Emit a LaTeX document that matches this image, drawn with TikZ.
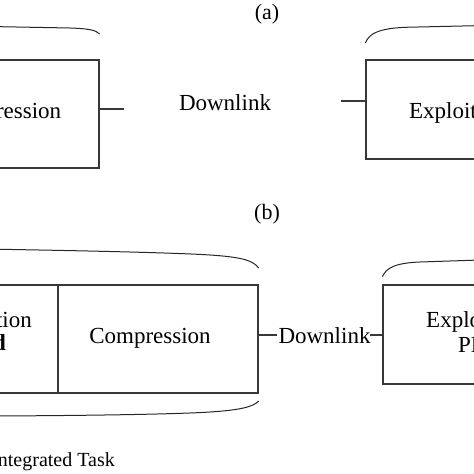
\documentclass[tikz,border=0pt]{standalone}
\usepackage{fontspec}
\setmainfont{Liberation Serif}
\begin{document}
\begin{tikzpicture}[x=1pt,y=-1pt,
  ln/.style={draw=black!78,line width=1.2pt},
  boxnode/.style={ln,rectangle,inner sep=0pt},
  txt/.style={inner sep=0pt,font=\fontsize{23}{27}\selectfont},
  lbl/.style={inner sep=0pt,font=\fontsize{22}{26}\selectfont},
  brace/.style={draw=black!85,line width=1pt}]
\useasboundingbox (0,0) rectangle (474,474);
\clip (0,0) rectangle (474,474);
% ---------- (a)
\node[lbl,anchor=base] (la) at (267,19) {(a)};
\node[boxnode,minimum width=198pt,minimum height=108pt] (aL) at (0,114) {};
\node[txt,anchor=base] (aLt) at (0.5,118) {Compression};
\node[boxnode,minimum width=200pt,minimum height=99pt] (aR) at (466,109.5) {};
\node[txt,anchor=base] (aRt) at (466,118) {Exploitation};
\node[txt,anchor=base] (aD) at (225,110) {Downlink};
\coordinate (a1) at (124,109);
\coordinate (a2) at (341,101);
\draw[ln] (aL.east |- a1) -- (a1);
\draw[ln] (a2) -- (aR.west |- a2);
\draw[brace] (-5,26.6) -- (70,28) .. controls (88,28.6) and (96,30) .. (aL.north east |- 0,34);
\draw[brace] (aR.west |- 0,43) .. controls (369,33) and (380,28.5) .. (405,27.3) -- (480,25.6);
% ---------- (b)
\node[lbl,anchor=base] (lb) at (267,219) {(b)};
\node[boxnode,minimum width=408pt,minimum height=108pt] (bL) at (54,339) {};
\coordinate (dv) at (58,0);
\draw[ln] (bL.north -| dv) -- (bL.south -| dv);
\node[txt,anchor=base east] (bLt1) at (32,327) {Detection};
\node[txt,anchor=base east] (bLt2) at (6,350) {\bfseries Head};
\node[txt,anchor=base] (bLc) at (150,343) {Compression};
\node[boxnode,minimum width=200pt,minimum height=99pt] (bR) at (483,334.5) {};
\node[txt,anchor=base west] (bRt1) at (426,327) {Exploitation};
\node[txt,anchor=base west] (bRt2) at (458,352) {PE};
\node[txt,anchor=base] (bD) at (324.5,343) {Downlink};
\coordinate (b1) at (277,335);
\coordinate (b2) at (370,335);
\draw[ln] (bL.east |- b1) -- (b1);
\draw[ln] (b2) -- (bR.west |- b2);
\draw[brace] (-5,249.2) .. controls (100,251) and (180,253) .. (210,255) .. controls (240,257) and (253,260) .. (bL.east |- 0,268);
\draw[brace] (-5,416) .. controls (100,415.5) and (180,414) .. (210,412) .. controls (240,410) and (253,407) .. (bL.east |- 0,401);
\draw[brace] (bR.west |- 0,276.7) .. controls (386,268) and (395,263) .. (420,262) -- (480,260);
\node[inner sep=0pt,font=\fontsize{20}{24}\selectfont,anchor=base east] (cap) at (115,466) {Integrated Task};
\end{tikzpicture}
\end{document}
